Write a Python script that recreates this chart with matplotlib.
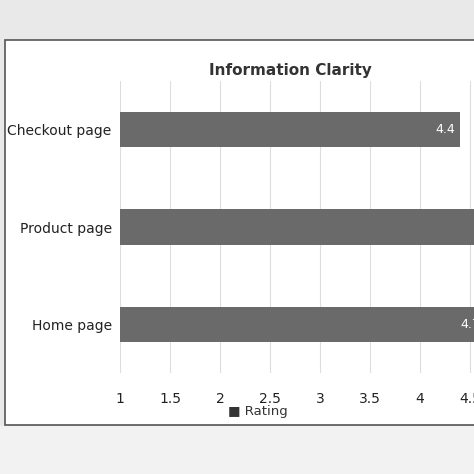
import matplotlib.pyplot as plt
from matplotlib.patches import Rectangle

pages = ["Home page", "Product page", "Checkout page"]
ratings = [4.65, 4.9, 4.4]
ticks = [1, 1.5, 2, 2.5, 3, 3.5, 4, 4.5]
tick_labels = ["1", "1.5", "2", "2.5", "3", "3.5", "4", "4.5"]

W = 474.0
fig = plt.figure(figsize=(4.74, 4.74), dpi=100)
fig.patch.set_facecolor("#e9e9e9")
# chart area (scanned page)
fig.patches.append(Rectangle((5 / W, 1 - 425 / W), 1.2, (425 - 40) / W,
                             transform=fig.transFigure, facecolor="white",
                             edgecolor="#555555", lw=1.2, zorder=-10))
fig.patches.append(Rectangle((0, 0), 1, 1 - 426 / W, transform=fig.transFigure,
                             facecolor="#f2f2f2", edgecolor="none", zorder=-10))

ax = fig.add_axes([120 / W, 1 - 373 / W, 400 / W, 292 / W])
ax.set_facecolor("none")
ax.barh(pages, ratings, height=0.36, color="#6a6a6a")
ax.set_xlim(1, 5)
ax.set_ylim(-0.5, 2.5)
ax.set_xticks(ticks)
ax.set_xticklabels(tick_labels, fontsize=10, color="#222222")
ax.xaxis.grid(True, color="#dddddd", lw=0.8)
ax.set_axisbelow(True)
for s in ax.spines.values():
    s.set_visible(False)
ax.tick_params(length=0, pad=14, labelsize=10)
ax.tick_params(axis="y", pad=6, labelcolor="#222222")
for i, r in enumerate(ratings):
    ax.text(r - 0.05, i, f"{r:.1f}", ha="right", va="center", color="white", fontsize=9)

fig.text(290 / W, 1 - 70 / W, "Information Clarity", ha="center", va="center",
         fontsize=11, fontweight="bold", color="#333333")
fig.text(258 / W, 1 - 412 / W, "\u25a0 Rating", ha="center", va="center",
         fontsize=9.5, color="#333333")

fig.savefig("out.png", dpi=100, facecolor=fig.get_facecolor())
